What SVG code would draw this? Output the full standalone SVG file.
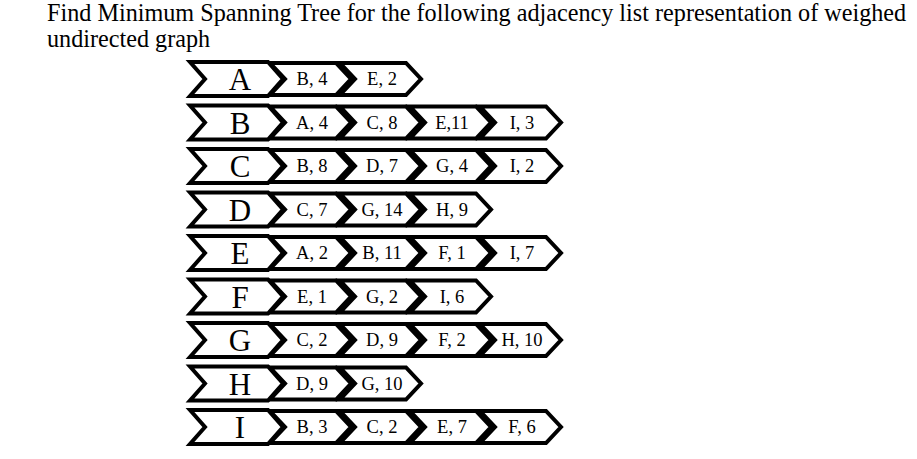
<svg xmlns="http://www.w3.org/2000/svg" width="917" height="459" viewBox="0 0 917 459">
<style>
.t{font-family:"Liberation Serif",serif;font-size:24.2px;fill:#000}
.h{font-family:"Liberation Serif",serif;font-size:31px;text-anchor:middle;fill:#000}
.i{font-family:"Liberation Serif",serif;font-size:18.5px;text-anchor:middle;fill:#000}
.c{fill:#fff;stroke:#000;stroke-width:4;stroke-linejoin:miter}
</style>
<defs>
<polygon id="hd" class="c" points="0,-17 78,-17 93,0 78,17 0,17 15,0"/>
<polygon id="it" class="c" points="0,-16 66,-16 81,0 66,16 0,16 15,0"/>
</defs>
<rect width="917" height="459" fill="#fff"/>
<text class="t" x="47" y="21">Find Minimum Spanning Tree for the following adjacency list representation of weighed</text>
<text class="t" x="47" y="47">undirected graph</text>
<g id="rowA" transform="translate(0,79)"><use href="#hd" x="190"/><text class="h" x="240" y="11">A</text>
<use href="#it" x="270"/><text class="i" x="312" y="6">B, 4</text><use href="#it" x="340"/><text class="i" x="382" y="6">E, 2</text></g>
<g id="rowB" transform="translate(0,122.5)"><use href="#hd" x="190"/><text class="h" x="240" y="11">B</text>
<use href="#it" x="270"/><text class="i" x="312" y="6">A, 4</text><use href="#it" x="340"/><text class="i" x="382" y="6">C, 8</text><use href="#it" x="410"/><text class="i" x="452" y="6">E,11</text><use href="#it" x="480"/><text class="i" x="522" y="6">I, 3</text></g>
<g id="rowC" transform="translate(0,166)"><use href="#hd" x="190"/><text class="h" x="240" y="11">C</text>
<use href="#it" x="270"/><text class="i" x="312" y="6">B, 8</text><use href="#it" x="340"/><text class="i" x="382" y="6">D, 7</text><use href="#it" x="410"/><text class="i" x="452" y="6">G, 4</text><use href="#it" x="480"/><text class="i" x="522" y="6">I, 2</text></g>
<g id="rowD" transform="translate(0,209.5)"><use href="#hd" x="190"/><text class="h" x="240" y="11">D</text>
<use href="#it" x="270"/><text class="i" x="312" y="6">C, 7</text><use href="#it" x="340"/><text class="i" x="382" y="6">G, 14</text><use href="#it" x="410"/><text class="i" x="452" y="6">H, 9</text></g>
<g id="rowE" transform="translate(0,253)"><use href="#hd" x="190"/><text class="h" x="240" y="11">E</text>
<use href="#it" x="270"/><text class="i" x="312" y="6">A, 2</text><use href="#it" x="340"/><text class="i" x="382" y="6">B, 11</text><use href="#it" x="410"/><text class="i" x="452" y="6">F, 1</text><use href="#it" x="480"/><text class="i" x="522" y="6">I, 7</text></g>
<g id="rowF" transform="translate(0,296.5)"><use href="#hd" x="190"/><text class="h" x="240" y="11">F</text>
<use href="#it" x="270"/><text class="i" x="312" y="6">E, 1</text><use href="#it" x="340"/><text class="i" x="382" y="6">G, 2</text><use href="#it" x="410"/><text class="i" x="452" y="6">I, 6</text></g>
<g id="rowG" transform="translate(0,340)"><use href="#hd" x="190"/><text class="h" x="240" y="11">G</text>
<use href="#it" x="270"/><text class="i" x="312" y="6">C, 2</text><use href="#it" x="340"/><text class="i" x="382" y="6">D, 9</text><use href="#it" x="410"/><text class="i" x="452" y="6">F, 2</text><use href="#it" x="480"/><text class="i" x="522" y="6">H, 10</text></g>
<g id="rowH" transform="translate(0,383.5)"><use href="#hd" x="190"/><text class="h" x="240" y="11">H</text>
<use href="#it" x="270"/><text class="i" x="312" y="6">D, 9</text><use href="#it" x="340"/><text class="i" x="382" y="6">G, 10</text></g>
<g id="rowI" transform="translate(0,427)"><use href="#hd" x="190"/><text class="h" x="240" y="11">I</text>
<use href="#it" x="270"/><text class="i" x="312" y="6">B, 3</text><use href="#it" x="340"/><text class="i" x="382" y="6">C, 2</text><use href="#it" x="410"/><text class="i" x="452" y="6">E, 7</text><use href="#it" x="480"/><text class="i" x="522" y="6">F, 6</text></g>
<g id="connectors"></g>
</svg>
